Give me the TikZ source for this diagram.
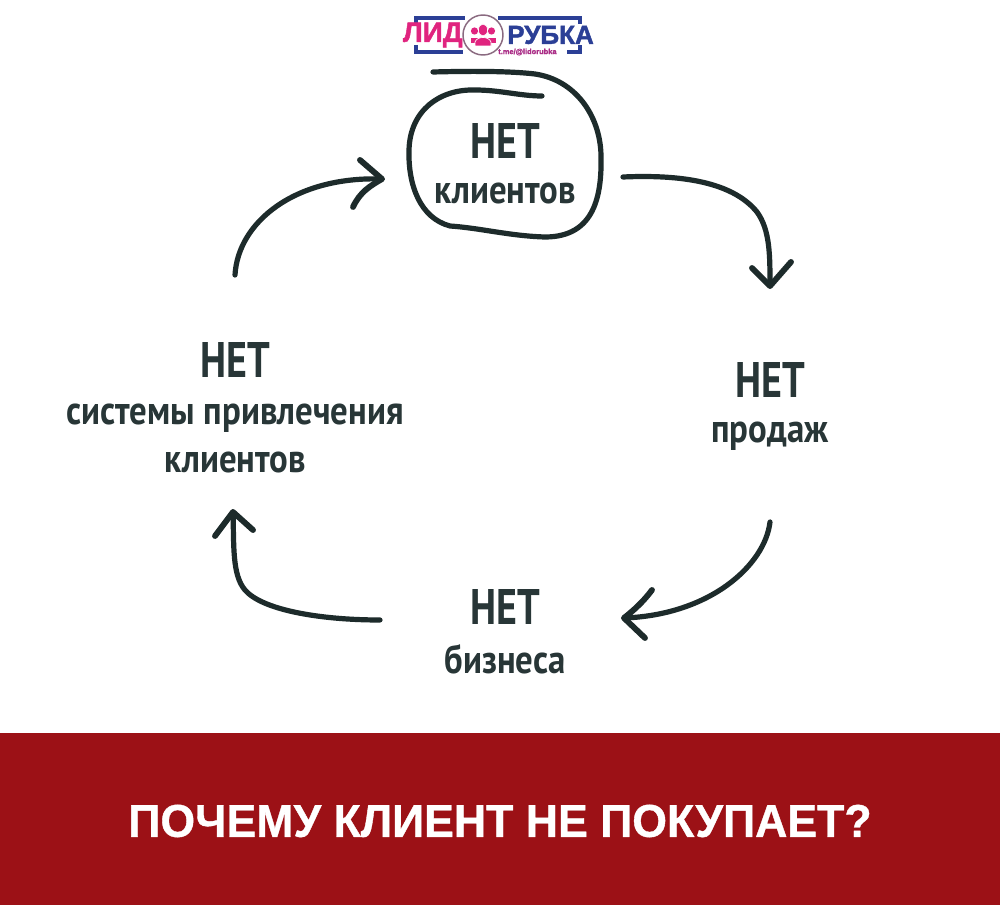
\documentclass[tikz,border=0pt]{standalone}
\usepackage{fontspec}
\setmainfont{PT Sans}
\newfontfamily\narrowfont[FakeStretch=0.80]{PT Sans}
\newfontfamily\subfont[FakeStretch=0.87]{PT Sans}
\newfontfamily\bannerfont[FakeStretch=0.97,FakeBold=0.8]{Liberation Sans}
\newfontfamily\logofont[FakeBold=1.6]{Liberation Sans}
\definecolor{ink}{HTML}{1D2B2B}
\definecolor{textink}{HTML}{283637}
\definecolor{bannerred}{HTML}{9C1116}
\definecolor{logopink}{HTML}{E0247F}
\definecolor{logoblue}{HTML}{2B3F96}
\definecolor{logogrey}{HTML}{8A6A80}
\tikzset{
  x=0.75pt,y=-0.75pt,
  headline/.style={inner sep=0pt,text=textink,font=\narrowfont\bfseries\fontsize{37.5}{40}\selectfont},
  subline/.style={inner sep=0pt,text=textink,align=center,font=\subfont\bfseries\fontsize{30}{36}\selectfont},
  stroke/.style={draw=ink,line width=3.9pt,line cap=round,line join=round},
  headstroke/.style={stroke,line width=4.4pt},
  logobar/.style={draw=logoblue,line width=2.4pt},
  banner/.style={inner sep=0pt,text=white,font=\bannerfont\bfseries\fontsize{34.5}{36}\selectfont},
}
\begin{document}
\begin{tikzpicture}
\useasboundingbox (0,0) rectangle (1000,905);
\fill[white] (0,0) rectangle (1000,905);
\fill[bannerred] (0,733) rectangle (1000,905);
% logo
\draw[logobar] (416,24) -- (416,18) -- (465,18);
\draw[logobar] (498,18) -- (580,18) -- (580,24);
\draw[logobar] (416,45) -- (416,52) -- (463,52);
\draw[logobar] (567,52) -- (580,52) -- (580,45);
\node[inner sep=0pt,anchor=east,text=logopink,font=\logofont\bfseries\fontsize{21}{22}\selectfont] (logoa) at (463,35) {ЛИД};
\node[inner sep=0pt,anchor=west,text=logoblue,font=\logofont\bfseries\fontsize{19.5}{20}\selectfont] (logob) at (507,35) {РУБКА};
\node[draw=logogrey,line width=1.1pt,circle,minimum size=30pt,inner sep=0pt] (logoc) at (483,35) {};
\fill[logopink] (474.5,31) circle (3.6) (491.5,31) circle (3.6);
\fill[logopink] (471,43) -- (471,38) -- (496,38) -- (496,43) -- cycle;
\filldraw[fill=logopink,draw=white,line width=0.5pt] (483,30) ellipse (4.6 and 6);
\filldraw[fill=logopink,draw=white,line width=0.5pt] (475,46) -- (475,42) .. controls (477,36) and (489,36) .. (491,42) -- (491,46) -- cycle;
\node[inner sep=0pt,anchor=west,text=logopink!70!logoblue,font=\logofont\bfseries\fontsize{5.6}{6}\selectfont] (logod) at (498,52) {t.me/@lidorubka};
% labels
\node[headline] (n1h) at (505,141) {НЕТ};
\node[subline] (n1s) at (505,194) {клиентов};
\node[headline] (n2h) at (770,380) {НЕТ};
\node[subline] (n2s) at (770,436) {продаж};
\node[headline] (n3h) at (505,607) {НЕТ};
\node[subline] (n3s) at (505,659) {бизнеса};
\node[headline] (n4h) at (235,360) {НЕТ};
\node[subline] (n4s) at (235,439) {системы привлечения\\клиентов};
\node[banner] (title) at (500,821) {ПОЧЕМУ КЛИЕНТ НЕ ПОКУПАЕТ?};
% hand-drawn loop around first label
\draw[stroke] (433,72) .. controls (470,71) and (510,71) .. (535,74)
  .. controls (575,80) and (600,115) .. (601,155)
  .. controls (602,195) and (595,237) .. (545,237)
  .. controls (510,236) and (480,228) .. (450,226)
  .. controls (420,218) and (408,185) .. (409,150)
  .. controls (410,110) and (440,89) .. (475,90)
  .. controls (500,90) and (520,96) .. (542,96);
% connectors
\coordinate (a1e) at (770,286);
\draw[stroke] (623,177) .. controls (690,174) and (735,185) .. (757,212)
  .. controls (770,230) and (770,255) .. (a1e);
\draw[headstroke] (752,268) -- (a1e) -- (791,262);
\coordinate (a2e) at (624,618);
\draw[stroke] (770,522) .. controls (765,565) and (710,615) .. (a2e);
\draw[headstroke] (652,590) .. controls (643,602) and (634,610) .. (a2e) -- (645,638);
\coordinate (a3e) at (233,512);
\draw[stroke] (380,620) .. controls (320,620) and (262,610) .. (245,590)
  .. controls (232,575) and (234,545) .. (a3e);
\draw[headstroke] (215,536) -- (a3e) -- (253,530);
\coordinate (a4e) at (382,179);
\draw[stroke] (235,275) .. controls (238,222) and (295,176) .. (a4e);
\draw[headstroke] (360,160) -- (a4e) .. controls (370,186) and (360,192) .. (353,207);
\end{tikzpicture}
\end{document}
